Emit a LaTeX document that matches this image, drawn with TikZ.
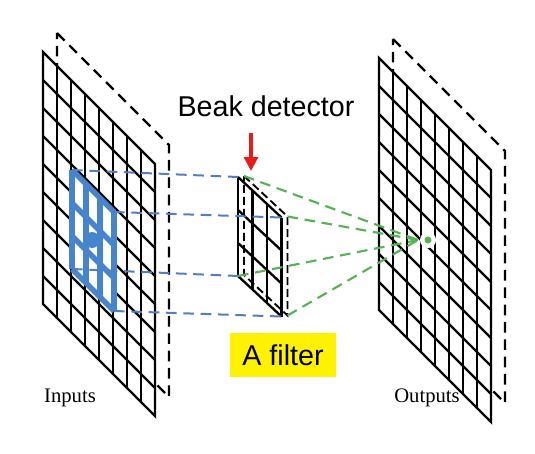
\documentclass[tikz,border=0pt]{standalone}
\usepackage{fontspec}
\setmainfont{Liberation Serif}
\newfontfamily\arialfont{Liberation Sans}
\usetikzlibrary{arrows.meta}

\definecolor{patchblue}{RGB}{70,132,206}
\definecolor{linkblue}{RGB}{82,126,196}
\definecolor{linkgreen}{RGB}{84,180,84}
\definecolor{markred}{RGB}{232,28,28}

\begin{document}
\begin{tikzpicture}[x=0.75pt,y=-0.75pt,
  gridline/.style={line width=1.75pt},
  backplane/.style={line width=1.6pt,dash pattern=on 8pt off 5pt},
  patchline/.style={patchblue,line width=4pt},
  bluelink/.style={linkblue,line width=1.5pt,dash pattern=on 8pt off 5pt},
  greenlink/.style={linkgreen,line width=1.6pt,dash pattern=on 8pt off 5pt},
  headtext/.style={font=\fontsize{21.5}{24}\selectfont\arialfont},
  maptext/.style={font=\fontsize{15.5}{18}\selectfont}]
\useasboundingbox (0,0) rectangle (535,453);
% input and output maps
\foreach \gx/\gy in {43/52, 379/58} {
  \draw[backplane] (\gx+14,\gy-19) -- ++(112,112) -- ++(0,252) -- ++(-112,-112) -- cycle;
  \fill[white] (\gx,\gy) -- ++(112,112) -- ++(0,252) -- ++(-112,-112) -- cycle;
  \foreach \i in {1,...,7}
    \draw[gridline] (\gx+14*\i,\gy+14*\i) -- ++(0,252);
  \foreach \j in {1,...,8}
    \draw[gridline] (\gx,\gy+28*\j) -- ++(112,112);
  \draw[gridline] (\gx,\gy) -- ++(112,112) -- ++(0,252) -- ++(-112,-112) -- cycle;
}
% receptive field
\coordinate (pTL) at (72,170);
\coordinate (pTR) at (114,212);
\coordinate (pBL) at (72,269);
\coordinate (pBR) at (114,311);
\fill[white] (pTL) -- (pTR) -- (pBR) -- (pBL) -- cycle;
\foreach \i in {0,...,3}
  \draw[patchline] (72+14*\i,170+14*\i) -- ++(0,99);
\foreach \j in {0,...,3}
  \draw[patchline] (72,170+33*\j) -- ++(42,42);
\fill[patchblue] (92,240) circle (8);
% filter
\coordinate (fTL) at (238,177);
\coordinate (fTR) at (281.5,217.5);
\coordinate (fBL) at (238,276);
\coordinate (fBR) at (281.5,316.5);
\coordinate (bTL) at (244,176);
\coordinate (bTR) at (287.5,216.5);
\coordinate (bBR) at (287.5,315.5);
\foreach \i in {0,...,3}
  \draw[gridline] (238+14.5*\i,177+13.5*\i) -- ++(0,99);
\foreach \j in {0,...,3}
  \draw[gridline] (238,177+33*\j) -- ++(43.5,40.5);
\draw[line width=1.4pt,dash pattern=on 6pt off 3pt] (bTL) -- (bTR) -- (bBR) -- ++(-43.5,-40.5) -- cycle;
% links
\draw[bluelink] (pTL) -- (fTL);
\draw[bluelink] (pTR) -- (fTR);
\draw[bluelink] (pBL) -- (fBL);
\draw[bluelink] (pBR) -- (fBR);
\coordinate (hit) at (418,240);
\fill[white] (428,240) circle (8);
\fill[linkgreen] (428,240) circle (3.5);
\draw[greenlink] (bTL) -- (hit);
\draw[greenlink] (bTR) -- (hit);
\draw[greenlink] (fBL) -- (hit);
\draw[greenlink] (bBR) -- (hit);
% labels
\node[headtext] (beak) at (266,106) {Beak detector};
\coordinate (aimTop) at (251,133);
\coordinate (aimTip) at (251,171);
\draw[markred,line width=2.4pt,-{Triangle[length=10.5pt,width=10.5pt]}] (aimTop) -- (aimTip);
\node[headtext,fill=yellow,minimum width=79.5pt,minimum height=33pt,inner sep=0pt] (filtertag) at (283,355) {A filter};
\node[maptext] (intag) at (70,398) {Inputs};
\node[maptext] (outtag) at (427,398) {Outputs};
\end{tikzpicture}
\end{document}
